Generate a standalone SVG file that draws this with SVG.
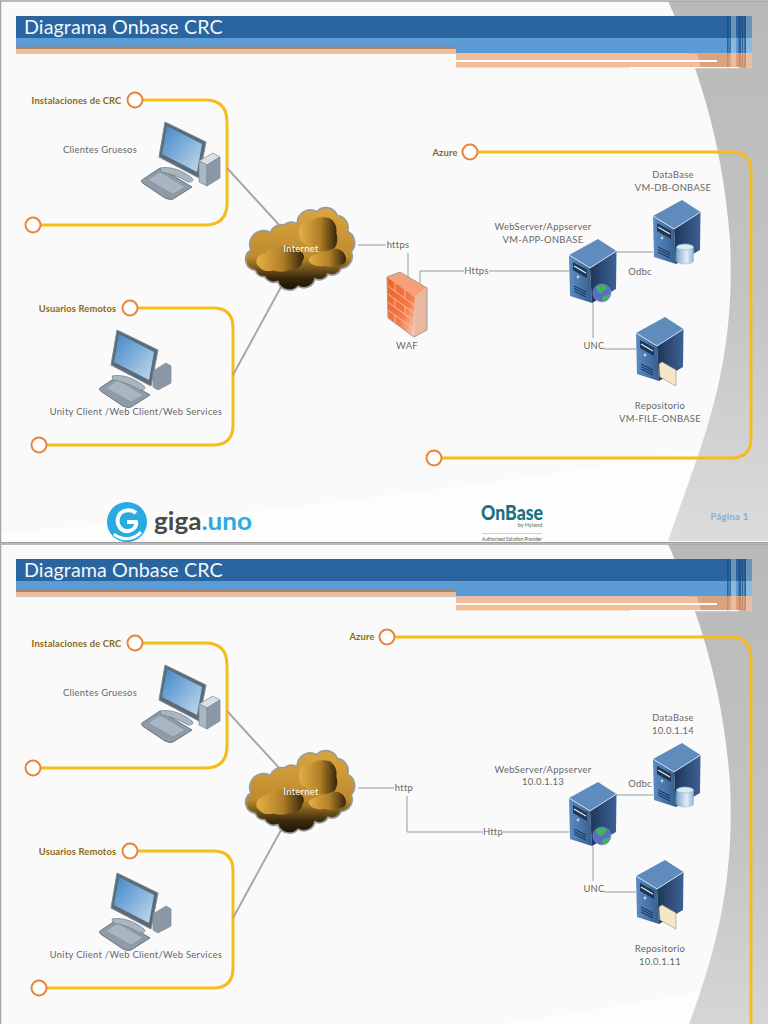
<svg xmlns="http://www.w3.org/2000/svg" xmlns:xlink="http://www.w3.org/1999/xlink" width="768" height="1024" viewBox="0 0 768 1024">
<style>
text{font-family:"Lato","Open Sans","Liberation Sans",sans-serif;font-size:9.4px;fill:#666;text-anchor:middle;letter-spacing:.3px}
.grp{fill:#8a6a12;font-weight:700;letter-spacing:.12px}
.title{font-size:19.700px;fill:#f2f6fb;text-anchor:start;letter-spacing:.08px}
.y{fill:none;stroke:#f7bb1a;stroke-width:3;stroke-linecap:round}
.o{fill:#fff;stroke:#e8843c;stroke-width:2}
.c{fill:none;stroke:#9a9a9a;stroke-width:1}
.g{fill:none;stroke:#a8a8a8;stroke-width:2}
</style>
<defs>
<linearGradient id="grayG" x1="0" y1="0" x2="0" y2="1"><stop offset="0" stop-color="#b9b9b9"/><stop offset=".55" stop-color="#c4c4c4"/><stop offset="1" stop-color="#dcdcdc"/></linearGradient>
<linearGradient id="scr" x1="0" y1="0" x2="1" y2="1"><stop offset="0" stop-color="#3f86c8"/><stop offset="1" stop-color="#c4daec"/></linearGradient>
<linearGradient id="srvR" x1="0" y1="0" x2="1" y2="0"><stop offset="0" stop-color="#1d3557"/><stop offset="1" stop-color="#3d6296"/></linearGradient>
<linearGradient id="srvL" x1="0" y1="0" x2="1" y2="0"><stop offset="0" stop-color="#5c8cc2"/><stop offset="1" stop-color="#34608f"/></linearGradient>
<linearGradient id="cyl" x1="0" y1="0" x2="1" y2="0"><stop offset="0" stop-color="#7fa9cf"/><stop offset=".6" stop-color="#e3eef7"/><stop offset="1" stop-color="#8fb3d3"/></linearGradient>
<linearGradient id="cl0" x1="0" y1="0" x2="0" y2="1"><stop offset="0" stop-color="#dba63e"/><stop offset=".6" stop-color="#bd8a2e"/><stop offset=".85" stop-color="#3a2a0c"/><stop offset="1" stop-color="#1a1205"/></linearGradient>
<linearGradient id="cl1" x1="0" y1="0" x2="1" y2="0"><stop offset="0" stop-color="#e6ae44"/><stop offset=".55" stop-color="#b07f28"/><stop offset="1" stop-color="#33250a"/></linearGradient>
<linearGradient id="waf" x1="0" y1="0" x2="1" y2="1"><stop offset="0" stop-color="#ee5f28"/><stop offset=".6" stop-color="#f27a48"/><stop offset="1" stop-color="#fbd0bd"/></linearGradient>
<clipPath id="pg"><rect x="0" y="0" width="768" height="542"/></clipPath>

<g id="page">
<rect x="0" y="0" width="768" height="542" fill="#fafafa"/>
<path d="M0 532C200 520 480 490 702 448L668 542H0Z" fill="#fdfdfd"/>
<path d="M668 1C692 55 722 130 730 240C734 320 722 385 700 450L668 541H768V1Z" fill="url(#grayG)"/>
<path d="M0 1H768M.5 1V542" fill="none" stroke="#a5a5a5" stroke-width="1.5"/>
</g>

<g id="banner">
<rect x="16" y="16" width="736" height="22" fill="#2a659f"/>
<rect x="16" y="38" width="736" height="15.5" fill="#5b9bd6"/>
<rect x="16" y="46.7" width="440" height="2.5" fill="#a8826b"/>
<rect x="16" y="49" width="440" height="4.5" fill="#f3bd9a"/>
<rect x="456" y="53.5" width="296" height="14" fill="#f3bd9a"/>
<path d="M697 53.5H752V67.5H701Z" fill="#dca27d"/>
<rect x="456" y="60" width="261" height="2" fill="#fdfdfd"/>
<rect x="630" y="67" width="110" height="1.2" fill="#fdfdfd"/>
<g fill="#1f4e7e" opacity=".75"><rect x="727" y="16" width="1.5" height="37"/><rect x="729.5" y="16" width="1" height="37"/><rect x="738.5" y="16" width="2.5" height="37"/><rect x="742" y="16" width="1" height="37"/><rect x="744.5" y="16" width="1.5" height="37"/></g>
<g fill="#fff" opacity=".3"><rect x="731" y="16" width="5" height="52"/><rect x="746" y="16" width="6" height="52"/></g>
<g fill="#b87f5b" opacity=".6"><rect x="738.5" y="53.5" width="2.5" height="14"/><rect x="742" y="53.5" width="1" height="14"/><rect x="744.5" y="53.5" width="1.5" height="14"/><rect x="727" y="53.5" width="1.5" height="14"/></g>
</g>

<g id="monitor">
<path d="M165 122 206 142 199 178 159 157Z" fill="#5b6a78" stroke="#7c8a96" stroke-width="1" stroke-linejoin="round"/>
<path d="M167 126 202 144 197 172 162 154Z" fill="url(#scr)"/>
<path d="M160 168C170 166 182 170 192 178 194 181 192 182 188 182 178 176 168 173 161 172Z" fill="#a9b6c0" stroke="#6f7c87" stroke-width=".7"/>
</g>
<g id="keyboard">
<path d="M142 180 160 168 192 187 173 199C170 200 168 199 165 198L144 184C141 182 141 181 142 180Z" fill="#8e9ca8" stroke="#66737e" stroke-width="1"/>
<path d="M148 180 160 172 185 187 173 194Z" fill="#a9b6c1" stroke="#748290" stroke-width=".6" stroke-dasharray="1 .7"/>
</g>
<g id="tower">
<path d="M199 161 213 153 220 157 207 165Z" fill="#d8dfe5" stroke="#7d8a95" stroke-width=".7"/>
<path d="M199 161 207 165 207 186 199 182Z" fill="#aab6c0" stroke="#7d8a95" stroke-width=".7"/>
<path d="M207 165 220 157 220 178 207 186Z" fill="#8a98a5" stroke="#7d8a95" stroke-width=".7"/>
</g>

<g id="server">
<path d="M0 16 29 0 47.500 12 21 29Z" fill="#5f8cbd"/>
<path d="M0 16 21 29 23 64 1 57Z" fill="url(#srvL)"/>
<path d="M21 29 47.500 12 47 50 23 64Z" fill="url(#srvR)"/>
<path d="M0 16 21 29 47.500 12" fill="none" stroke="#dfe9f3" stroke-width=".9"/>
<path d="M4 23 18 31V39L4 31Z" fill="#1e3553"/>
<path d="M5 27 17 34" stroke="#dfe9f3" stroke-width="1.4"/>
<circle cx="9" cy="38" r="1.400" fill="#bcd2e6"/>
<path d="M5 47 17 53M5 49.500 17 55.500M5 52 17 58" stroke="#17304f" stroke-width="1"/>
</g>

<g id="cloudShape" transform="translate(301 249) scale(.93) translate(-301 -249)">
<path d="M252 272A12 12 0 0 1 247 250A15 15 0 0 1 268 231A13 13 0 0 1 283 223A11 11 0 0 1 297 222A14 14 0 0 1 318 209A13 13 0 0 1 340 213A13 13 0 0 1 351 230A14 14 0 0 1 355 252A13 13 0 0 1 344 270A10 10 0 0 1 330 276A10 10 0 0 1 316 281A12 12 0 0 1 298 289A13 13 0 0 1 276 284A11 11 0 0 1 262 279A10 10 0 0 1 252 272Z" fill="url(#cl0)" stroke="#9a9a9a" stroke-width="1.800"/>
<path d="M299 228C300 220 308 219 312 219 316 214 326 214 332 216 338 220 340 226 339 232 341 238 340 244 337 248 332 252 326 254 320 251 314 254 308 249 306 244 300 242 298 235 299 228Z" fill="url(#cl1)"/>
<path d="M253 263C253 257 258 254 263 253 266 248 272 250 276 247 284 245 292 246 298 250 304 252 306 258 302 263 302 268 296 272 290 271 284 274 278 274 272 272 266 274 258 272 256 268 254 267 253 265 253 263Z" fill="url(#cl1)"/>
<path d="M309 260C311 256 315 255 319 254 324 250 330 252 334 249 340 248 346 250 348 255 351 260 349 266 344 266 338 270 330 268 326 267 320 269 310 266 309 260Z" fill="url(#cl1)"/>
</g>

<g id="db"><path d="M23.500 47V61A8.500 3 0 0 0 40.500 61V47Z" fill="url(#cyl)" stroke="#8fb0cc" stroke-width=".5"/><ellipse cx="32" cy="47" rx="8.500" ry="3" fill="#dfe9f2" stroke="#8fb0cc" stroke-width=".6"/></g>
<g id="folder"><path d="M23 47 26 45 40 53 40 69 24 60Z" fill="#f4e6c6" stroke="#a89a7c" stroke-width=".7"/></g>
<g id="globe"><circle cx="33" cy="54" r="9" fill="#5a6fc4"/><path d="M27 48C31 45 36 46 38 48 37 52 34 51 33 54 30 55 28 52 27 48ZM33 58C36 56 40 56 41 55 41 58 38 62 34 62Z" fill="#3fb55a"/><circle cx="33" cy="54" r="9" fill="none" stroke="#8a9ad8" stroke-width=".6"/></g>

<g id="wafIcon">
<path d="M387 277 400 272 427 288 415 297Z" fill="#f6a07a"/>
<path d="M387 277 415 297 414 337 388 318Z" fill="url(#waf)"/>
<path d="M415 297 427 288 427 330 414 337Z" fill="#e8b8a2"/>
<path d="M387 277 400 272 427 288 427 330 414 337 388 318Z" fill="none" stroke="#a89c94" stroke-width="1"/>
<path d="M388 286 414 305M388 294 414 313M388 302 414 321M388 310 414 329M395 283V291M405 290V298M395 299V307M405 306V314M395 315V323" stroke="#fbc9b2" stroke-width=".8" fill="none"/>
</g>

<g id="pageCommon">
<path class="y" d="M142 100H205Q227 100 227 122V203Q227 225 205 225H41"/>
<path class="y" d="M137 308H213Q233 308 233 328V425Q233 445 213 445H47"/>
<circle class="o" cx="135" cy="100" r="7.500"/><circle class="o" cx="33" cy="225" r="7.500"/>
<circle class="o" cx="130" cy="308" r="7.500"/><circle class="o" cx="39" cy="445" r="7.500"/>
</g>
</defs>

<g id="slide-1-background"><use href="#page"/><use href="#banner"/></g>
<rect x="0" y="542" width="768" height="2" fill="#9f9f9f"/>
<g id="slide-2-background" transform="translate(0,543)"><use href="#page"/><use href="#banner"/></g>
<text class="title" x="24" y="34">Diagrama Onbase CRC</text>
<text class="title" x="24" y="577">Diagrama Onbase CRC</text>

<g id="connectors-1">
<use href="#pageCommon"/>
<path class="y" d="M478 152H731Q751 152 751 172V438Q751 458 731 458H442"/>
<circle class="o" cx="470" cy="152" r="7.500"/><circle class="o" cx="434" cy="458" r="7.500"/>
<path class="g" d="M227 168 281 227M233 375 281 287"/>
<path class="c" d="M358 245H386M408 253V282M420 283V271H464M489 271H569M616 252H653M593 303V338M604 349H636"/>
</g>
<g id="connectors-2">
<use href="#pageCommon" y="543"/>
<path class="y" d="M395 637H730Q751 637 751 658V1024"/>
<circle class="o" cx="387" cy="637" r="7.500"/>
<path class="g" d="M227 711 281 770M233 918 281 830"/>
<path class="c" d="M358 788H394M407 796V832H483M503 832H569M616 795H653M593 846V881M604 892H636"/>
</g>

<g id="label-instalaciones"><text class="grp" x="76.500" y="103.500">Instalaciones de CRC</text></g>
<g id="label-usuarios"><text class="grp" x="77.500" y="311.500">Usuarios Remotos</text></g>
<g id="label-azure"><text class="grp" x="445" y="155.500">Azure</text></g>

<g id="clientes-gruesos"><use href="#keyboard"/><use href="#monitor"/><use href="#tower"/><text x="100" y="153">Clientes Gruesos</text></g>
<g id="unity-client"><use href="#keyboard" x="-42" y="208"/><use href="#monitor" x="-48" y="208"/><path d="M153 371 166 363 171 366 171 383 158 390 153 387Z" fill="#8a98a5" stroke="#7d8a95" stroke-width=".7"/><text x="136" y="415">Unity Client /Web Client/Web Services</text></g>
<g id="internet"><use href="#cloudShape"/><text x="301" y="252" style="fill:#fff">Internet</text></g>
<g id="https-label"><text x="398" y="248">https</text></g>
<g id="waf-node"><use href="#wafIcon"/><text x="407" y="349">WAF</text></g>
<g id="https-label2"><text x="476.500" y="274">Https</text></g>
<g id="webserver"><use href="#server" x="569" y="239"/><use href="#globe" x="569" y="239"/><text x="543" y="230">WebServer/Appserver</text><text x="543" y="243">VM-APP-ONBASE</text></g>
<g id="database"><use href="#server" x="653" y="200"/><use href="#db" x="653" y="200"/><text x="673" y="178">DataBase</text><text x="673" y="191">VM-DB-ONBASE</text></g>
<g id="odbc-label"><text x="640" y="275">Odbc</text></g>
<g id="unc-label"><text x="594" y="349">UNC</text></g>
<g id="repositorio"><use href="#server" x="636" y="317"/><use href="#folder" x="636" y="317"/><text x="660" y="409">Repositorio</text><text x="660" y="422">VM-FILE-ONBASE</text></g>

<g id="logo-giga" clip-path="url(#pg)">
<circle cx="127" cy="522" r="20" fill="#29abe2"/>
<path d="M136 513C130 508 120 510 118 518 116 526 122 532 129 531 134 530 137 526 136 522H127" fill="none" stroke="#fff" stroke-width="4"/>
<path d="M114 534C122 541 134 540 141 532" fill="none" stroke="#fff" stroke-width="3"/>
<text x="154" y="530" textLength="98" lengthAdjust="spacingAndGlyphs" style="font-size:24px;font-weight:700;text-anchor:start;fill:#4a4a4a;letter-spacing:0">giga<tspan fill="#29abe2">.uno</tspan></text>
</g>
<g id="logo-onbase" clip-path="url(#pg)">
<text x="512" y="520" textLength="62" lengthAdjust="spacingAndGlyphs" style="font-size:21px;font-weight:900;fill:#1d6f80;letter-spacing:0">OnBase</text>
<text x="530" y="527" style="font-size:5.500px;font-weight:700;fill:#7d8f6a;letter-spacing:0">by Hyland</text>
<rect x="482" y="533" width="60" height=".8" fill="#c8c8c8"/>
<text x="512" y="541" textLength="60" lengthAdjust="spacingAndGlyphs" style="font-size:5px;fill:#555;letter-spacing:0">Authorized Solution Provider</text>
</g>
<g id="page-number"><text x="729.500" y="519.500" style="fill:#80b0da;font-weight:700">Página 1</text></g>

<g id="label-instalaciones-2"><text class="grp" x="76.500" y="646.500">Instalaciones de CRC</text></g>
<g id="label-usuarios-2"><text class="grp" x="77.500" y="854.500">Usuarios Remotos</text></g>
<g id="label-azure-2"><text class="grp" x="362" y="640">Azure</text></g>

<g id="clientes-gruesos-2"><use href="#keyboard" y="543"/><use href="#monitor" y="543"/><use href="#tower" y="543"/><text x="100" y="696">Clientes Gruesos</text></g>
<g id="unity-client-2"><use href="#keyboard" x="-42" y="751"/><use href="#monitor" x="-48" y="751"/><path d="M153 914 166 906 171 909 171 926 158 933 153 930Z" fill="#8a98a5" stroke="#7d8a95" stroke-width=".7"/><text x="136" y="958">Unity Client /Web Client/Web Services</text></g>
<g id="internet-2"><use href="#cloudShape" y="543"/><text x="301" y="795" style="fill:#fff">Internet</text></g>
<g id="http-label"><text x="404" y="791">http</text></g>
<g id="http-label2"><text x="493" y="835">Http</text></g>
<g id="webserver-2"><use href="#server" x="569" y="782"/><use href="#globe" x="569" y="782"/><text x="543" y="773">WebServer/Appserver</text><text x="543" y="785">10.0.1.13</text></g>
<g id="database-2"><use href="#server" x="653" y="743"/><use href="#db" x="653" y="743"/><text x="673" y="721">DataBase</text><text x="673" y="734">10.0.1.14</text></g>
<g id="odbc-label-2"><text x="640" y="787">Odbc</text></g>
<g id="unc-label-2"><text x="594" y="892">UNC</text></g>
<g id="repositorio-2"><use href="#server" x="636" y="860"/><use href="#folder" x="636" y="860"/><text x="660" y="952">Repositorio</text><text x="660" y="965">10.0.1.11</text></g>
</svg>
